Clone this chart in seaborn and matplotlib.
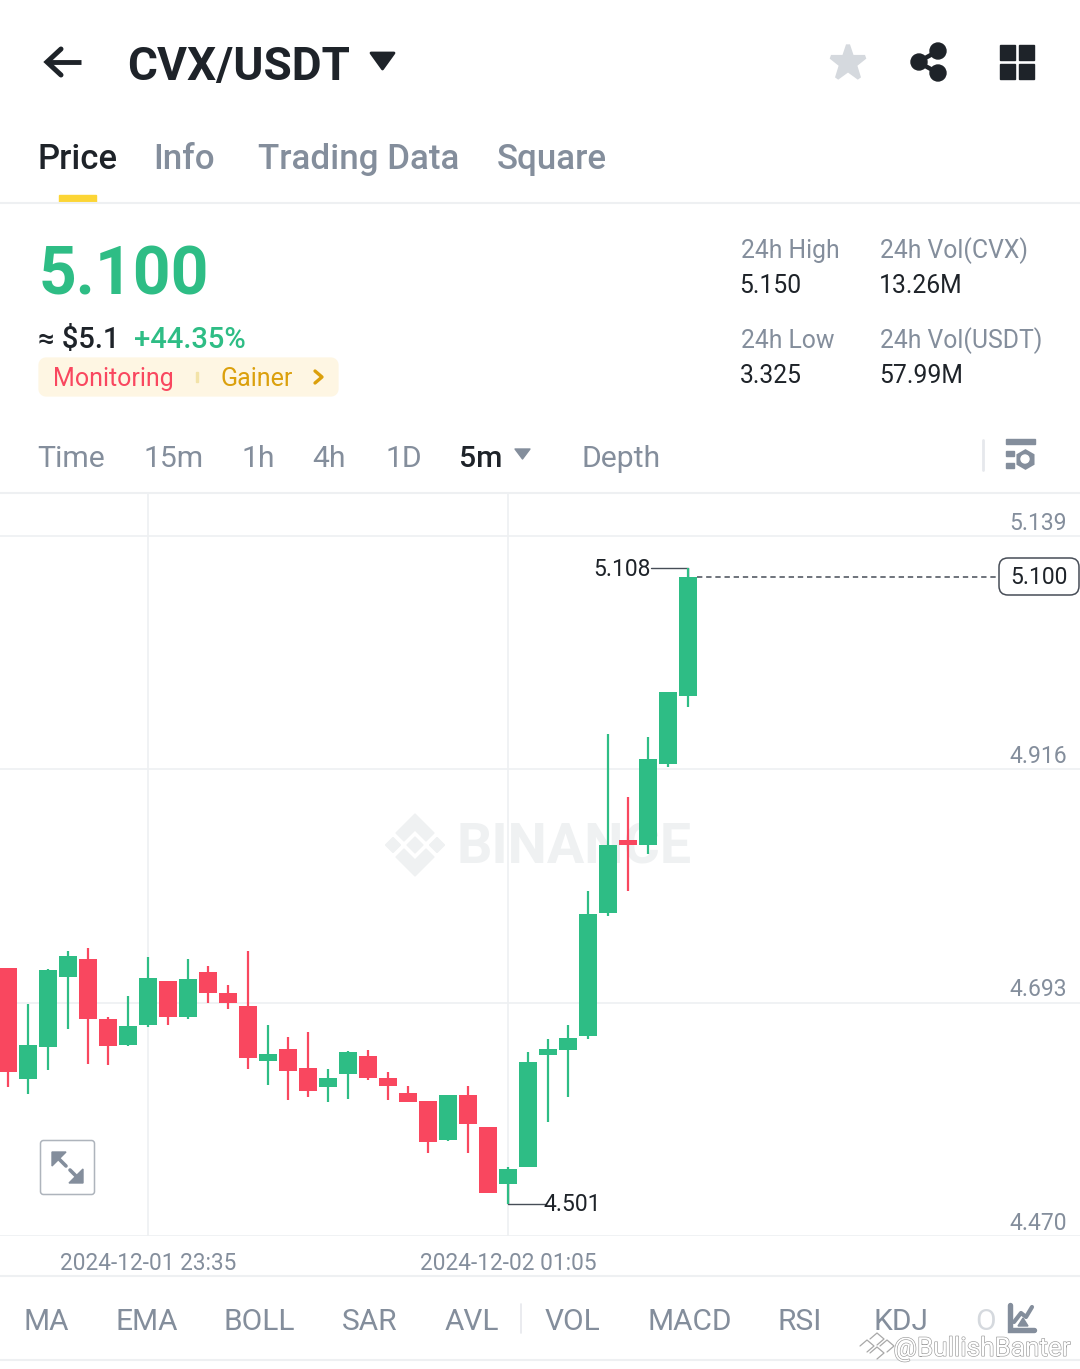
#CVX/USDT 5m candle screen, drawn with seaborn + a pixel overlay for the app UI
import numpy as np
import pandas as pd
import seaborn as sns
import matplotlib
matplotlib.use("Agg")
import matplotlib.pyplot as plt
from matplotlib.patches import Polygon, FancyBboxPatch, Circle, Rectangle
import matplotlib.patheffects as pe

#Candle values
opens = [4.726, 4.620, 4.651, 4.718, 4.735, 4.677, 4.653, 4.672, 4.714, 4.679, 4.722, 4.702,
         4.690, 4.637, 4.649, 4.631, 4.612, 4.625, 4.642, 4.621, 4.607, 4.599, 4.562, 4.605,
         4.574, 4.520, 4.536, 4.643, 4.648, 4.661, 4.779, 4.848, 4.844, 4.921, 4.986]
highs = [4.726, 4.692, 4.725, 4.742, 4.745, 4.679, 4.699, 4.737, 4.714, 4.735, 4.728, 4.710,
         4.742, 4.672, 4.660, 4.665, 4.630, 4.647, 4.648, 4.627, 4.613, 4.599, 4.605, 4.613,
         4.574, 4.536, 4.646, 4.658, 4.672, 4.800, 4.950, 4.890, 4.947, 4.990, 5.108]
lows = [4.612, 4.606, 4.629, 4.668, 4.634, 4.633, 4.652, 4.670, 4.672, 4.677, 4.693, 4.687,
        4.630, 4.614, 4.600, 4.603, 4.598, 4.601, 4.619, 4.600, 4.598, 4.549, 4.561, 4.549,
        4.511, 4.501, 4.536, 4.579, 4.603, 4.658, 4.776, 4.800, 4.835, 4.918, 4.976]
closes = [4.627, 4.653, 4.724, 4.738, 4.677, 4.652, 4.671, 4.717, 4.679, 4.716, 4.702, 4.693,
          4.640, 4.644, 4.628, 4.609, 4.621, 4.646, 4.621, 4.613, 4.598, 4.560, 4.605, 4.577,
          4.511, 4.534, 4.636, 4.649, 4.659, 4.778, 4.844, 4.844, 4.926, 4.990, 5.100]
price_ticks = [5.139, 4.916, 4.693, 4.470]
price_labels = ["5.139", "4.916", "4.693", "4.470"]
date_candles = [7, 25]
date_labels = ["2024-12-01 23:35", "2024-12-02 01:05"]

tab_names = ["Price", "Info", "Trading Data", "Square"]
period_names = ["Time", "15m", "1h", "4h", "1D", "5m", "Depth"]
indicator_names = ["MA", "EMA", "BOLL", "SAR", "AVL", "VOL", "MACD", "RSI", "KDJ"]

GREEN = "#2EBD85"
RED = "#F9475F"
DARK = "#1E2329"
GRAY = "#848E9C"
LINE = "#EEF0F2"

sns.set_style("white")
plt.rcParams["font.family"] = ["Roboto", "DejaVu Sans"]

fig = plt.figure(figsize=(10.8, 13.69), dpi=100, facecolor="white")

#Pixel overlay for everything that isn't chart data
ui = fig.add_axes([0, 0, 1, 1], zorder=0)
ui.set_xlim(0, 1080)
ui.set_ylim(1369, 0)
ui.axis("off")

#Chart axes, scale taken from the price labels (5.139 at y=536, 4.470 at y=1236)
chart_top = 493
chart_bottom = 1236
px_per_price = (1236 - 536) / (5.139 - 4.470)
ax = fig.add_axes([0, 1 - chart_bottom / 1369, 1, (chart_bottom - chart_top) / 1369], zorder=1)
ax.patch.set_visible(False)

df = pd.DataFrame({"candle": range(len(opens)), "open": opens, "high": highs, "low": lows, "close": closes})
df["up"] = df["close"] >= df["open"]
df["body_low"] = df[["open", "close"]].min(axis=1)
df["body_size"] = (df["open"] - df["close"]).abs()
wicks = df.melt(id_vars=["candle", "up"], value_vars=["high", "low"], value_name="price")
wicks = wicks.sort_values(["candle", "price"])

for is_up, colour in [(True, GREEN), (False, RED)]:
    sns.lineplot(data=wicks[wicks["up"] == is_up], x="candle", y="price", units="candle", estimator=None,
                 color=colour, linewidth=1.6, legend=False, ax=ax, solid_capstyle="butt", zorder=3)
    part = df[df["up"] == is_up]
    sns.barplot(x=part["candle"], y=part["body_size"], bottom=part["body_low"], native_scale=True,
                color=colour, saturation=1, width=0.9, errorbar=None, linewidth=0, ax=ax, zorder=4)

ax.set_xlim(-0.4, 53.6)
ax.set_ylim(4.470 - (1236 - chart_bottom) / px_per_price, 5.139 + (536 - chart_top) / px_per_price)
ax.set_yticks(price_ticks)
ax.set_xticks(date_candles)
ax.set_xticklabels([])
ax.set_yticklabels([])
ax.set_xlabel("")
ax.set_ylabel("")
ax.grid(True, color=LINE, linewidth=1.2)
ax.set_axisbelow(True)
ax.tick_params(length=0)
sns.despine(ax=ax, left=True, bottom=True, top=True, right=True)

#Price and date labels
for price, lab in zip(price_ticks, price_labels):
    ax.annotate(lab, (1, price), xycoords=("axes fraction", "data"), xytext=(-9.2, 1), textcoords="offset points",
                ha="right", va="bottom", fontsize=16.5, color=GRAY)
for cand, lab in zip(date_candles, date_labels):
    ax.annotate(lab, (cand, 0), xycoords=("data", "axes fraction"), xytext=(0, -19.5), textcoords="offset points",
                ha="center", va="center", fontsize=16.3, color=GRAY, annotation_clip=False)

#High / low markers and the last price line
hi = int(np.argmax(highs))
lo = int(np.argmin(lows))
ax.plot([hi - 1.85, hi, hi], [highs[hi], highs[hi], opens[hi] + 0.11], color="#474D57", lw=1, zorder=2)
ax.plot([lo, lo, lo + 1.9], [closes[lo], lows[lo], lows[lo]], color="#474D57", lw=1, zorder=2)
ax.annotate("%.3f" % highs[hi], (hi - 1.85, highs[hi]), xytext=(-0.5, -0.5), textcoords="offset points",
            ha="right", va="center", fontsize=16.5, color=DARK)
ax.annotate("%.3f" % lows[lo], (lo + 1.9, lows[lo]), xytext=(-1.5, -0.5), textcoords="offset points",
            ha="left", va="center", fontsize=16.5, color=DARK)
ax.plot([34.45, 49.5], [closes[-1], closes[-1]], color="#474D57", lw=1.1, dashes=(3.5, 2.5), zorder=2)


def txt(x, y, s, size, color=GRAY, weight="normal", ha="left", **kw):
    return ui.text(x, y + 0.1 * size, s, fontsize=size, color=color, fontweight=weight, ha=ha, va="center", **kw)


def poly(points, color, **kw):
    ui.add_patch(Polygon(points, closed=True, facecolor=color, edgecolor=color, **kw))


def shift(points, x, y, k=1):
    return [(x + px * k, y + py * k) for px, py in points]


#Header
ui.plot([48, 81], [62, 62], color=DARK, lw=3.5, solid_capstyle="butt")
ui.plot([61, 47, 61], [49, 62, 75], color=DARK, lw=3.6, solid_joinstyle="miter", solid_capstyle="round")
txt(127, 64, "CVX/USDT", 33, DARK, "bold")
poly([(371, 53), (394, 53), (382.5, 69)], DARK, joinstyle="round", linewidth=2)
ui.plot([847.5], [63], marker="*", markersize=26, color="#D5D9DE", markeredgewidth=3, markeredgecolor="#D5D9DE")
ui.plot([938, 918, 938], [51, 62, 73], color=DARK, lw=3.2)
for cx, cy, r in [(938, 51, 8), (919, 62, 8), (938, 73, 8)]:
    ui.add_patch(Circle((cx, cy), r, color=DARK))
for sx in [1000, 1019]:
    for sy in [45, 64]:
        ui.add_patch(Rectangle((sx, sy), 15, 15, color=DARK))

#Tabs
txt(37.5, 157, tab_names[0], 25, DARK, "medium")
for x, name in zip([153.5, 258, 497], tab_names[1:]):
    txt(x, 157, name, 25.2, GRAY, "medium")
ui.add_patch(Rectangle((59, 195), 37, 7, color="#FCD535"))
ui.plot([0, 1080], [203, 203], color=LINE, lw=1.5)

#Price block
txt(38.5, 272, "5.100", 47.5, GREEN, "bold")
txt(38, 337.5, "≈ $5.1", 21, DARK, "medium")
txt(134, 337.5, "+44.35%", 21, GREEN, "medium")
ui.add_patch(FancyBboxPatch((46, 365), 285, 24, boxstyle="round,pad=0,rounding_size=0", mutation_aspect=1,
                            facecolor="#FEF6E3", edgecolor="#FEF6E3", linewidth=11, joinstyle="round"))
txt(53, 377, "Monitoring", 18, RED)
ui.add_patch(Rectangle((195.5, 372), 2.5, 10, color="#F3E3A8"))
txt(221, 377, "Gainer", 18, "#DBA00C")
ui.plot([315, 322, 315], [371, 377, 383], color="#DBA00C", lw=2.4)

#24h stats
txt(741, 249, "24h High", 17.8, GRAY)
txt(739.5, 284, "5.150", 17.8, DARK)
txt(880, 249, "24h Vol(CVX)", 17.8, GRAY)
txt(879, 284, "13.26M", 17.8, DARK)
txt(741, 339, "24h Low", 17.8, GRAY)
txt(739.5, 374, "3.325", 17.8, DARK)
txt(880, 339, "24h Vol(USDT)", 17.8, GRAY)
txt(879, 374, "57.99M", 17.8, DARK)

#Period row
for x, name in zip([37, 144, 241.5, 312, 385, 459, 581], period_names):
    if name == "5m":
        txt(x, 457, name, 21.7, DARK, "medium")
    else:
        txt(x, 457, name, 21.7, GRAY)
poly([(515, 449), (530, 449), (522.5, 459)], GRAY, joinstyle="round", linewidth=1)
ui.plot([983, 983], [440, 470], color="#E6E8EC", lw=2)
ui.add_patch(Rectangle((1006, 439), 29, 5, color=GRAY))
ui.add_patch(Rectangle((1006, 451), 8, 5, color=GRAY))
ui.add_patch(Rectangle((1006, 463), 8, 5, color=GRAY))
ui.plot([1025], [459], marker="h", markersize=15, color=GRAY, markeredgewidth=0)
ui.add_patch(Circle((1025, 459), 4, color="white", zorder=5))
ui.plot([0, 1080], [493, 493], color=LINE, lw=1.5)

#Binance watermark behind the candles
wm = "#EFF1F2"
diamond = [(0, -1), (1, 0), (0, 1), (-1, 0)]
poly(shift(diamond, 415, 845, 8), wm)
poly(shift(diamond, 393, 845, 7.5), wm)
poly(shift(diamond, 437, 845, 7.5), wm)
poly(shift([(0, -31), (19, -12), (11, -4), (0, -15), (-11, -4), (-19, -12)], 415, 845), wm)
poly(shift([(0, 31), (19, 12), (11, 4), (0, 15), (-11, 4), (-19, 12)], 415, 845), wm)
txt(456, 845, "BINANCE", 40, wm, "bold")

#Last price pill
ui.add_patch(FancyBboxPatch((999, 558), 80, 37, boxstyle="round,pad=0,rounding_size=9",
                            facecolor="white", edgecolor="#474D57", linewidth=1.1))
txt(1039, 576, "5.100", 16.5, DARK, ha="center")

#Expand button
ui.add_patch(FancyBboxPatch((40.5, 1140.5), 54, 54, boxstyle="round,pad=0,rounding_size=3",
                            facecolor="white", edgecolor="#AEB4BC", linewidth=1.1))
ui.plot([56, 66], [1156, 1166], color=GRAY, lw=2.6)
ui.plot([70, 80], [1170, 1180], color=GRAY, lw=2.6)
poly([(52, 1152), (66, 1152), (52, 1166)], GRAY)
poly([(83, 1183), (69, 1183), (83, 1169)], GRAY)

ui.plot([0, 1080], [1276, 1276], color=LINE, lw=1.5)

#Indicator row
for x, name in zip([23.5, 115, 223, 341.5, 445, 545, 648, 777, 874], indicator_names):
    txt(x, 1320, name, 21.5, GRAY)
ui.plot([520.5, 520.5], [1304, 1333], color="#E6E8EC", lw=1.2)
txt(975, 1320, "O", 21.5, "#D5D9DE")
ui.plot([1009.5, 1009.5, 1034], [1305, 1329.5, 1329.5], color=GRAY, lw=3.9, solid_joinstyle="miter")
ui.plot([1014, 1021, 1026, 1032], [1322, 1313, 1317, 1307], color=GRAY, lw=3)
poly([(1023, 1318), (1018, 1326), (1028, 1326)], GRAY)
ui.plot([0, 1080], [1360, 1360], color=LINE, lw=1.5)

#Repost watermark, outlined letters
stroke = [pe.withStroke(linewidth=0.9, foreground="#9A9A9A")]
txt(893.5, 1347, "@BullishBanter", 18.8, "white", path_effects=stroke)
for cx, cy in [(877, 1339), (867, 1346), (887, 1346), (877, 1353)]:
    ui.plot([cx - 7, cx, cx + 7, cx], [cy, cy - 6, cy, cy + 6], color="#A8A8A8", lw=0.9)

fig.savefig("out.png", dpi=100, facecolor="white")
